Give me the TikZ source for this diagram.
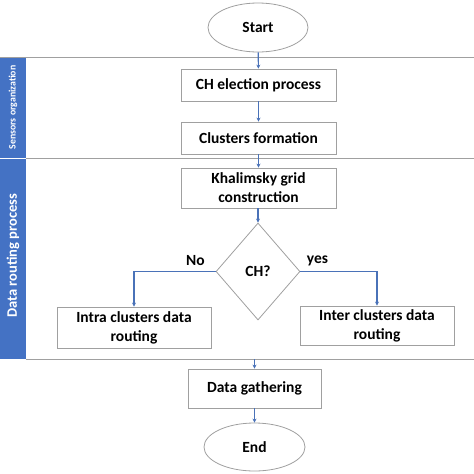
\documentclass[tikz,border=0pt]{standalone}
\usepackage{fontspec}
\setmainfont{Carlito}
\usetikzlibrary{shapes.geometric,arrows.meta}
\definecolor{laneblue}{HTML}{4472C4}
\definecolor{arrblue}{HTML}{4A72B8}
\definecolor{boxgray}{HTML}{A0A0A0}
\begin{document}
\begin{tikzpicture}[x=1pt,y=-1pt,
  txt/.style={font=\fontsize{15.5}{19}\selectfont\bfseries, text=black},
  procbox/.style={txt, draw=boxgray, line width=0.8pt, fill=white, inner sep=0pt, align=center},
  term/.style={txt, ellipse, draw=boxgray, line width=0.8pt, fill=white, inner sep=0pt},
  decide/.style={txt, diamond, draw=boxgray, line width=0.8pt, fill=white, inner sep=0pt, minimum width=84pt, minimum height=97pt},
  flow/.style={draw=arrblue, line width=1.1pt, -{Stealth[length=4pt,width=4pt]}},
  lane/.style={draw=boxgray, line width=0.8pt},
  lbl/.style={font=\fontsize{15.5}{19}\selectfont\bfseries, text=black}
]
\useasboundingbox (0,0) rectangle (474,474);
% lanes
\fill[laneblue] (0,57) rectangle (26,158);
\fill[laneblue] (0,158) rectangle (26,359);
\draw[white, line width=0.6pt] (0,158) -- (26,158);
\draw[lane] (0,57) -- (474,57);
\draw[lane] (26,158) -- (474,158);
\draw[lane] (26,359) -- (474,359);
\node[rotate=90, text=white, font=\fontsize{9.8}{11}\selectfont\bfseries] (lane1) at (13,107.5) {Sensors organization};
\node[rotate=90, text=white, font=\fontsize{14.5}{17}\selectfont\bfseries] (lane2) at (13,256) {Data routing process};
% nodes
\node[term, minimum width=100pt, minimum height=49pt] (start) at (258,27.5) {Start};
\node[procbox, minimum width=155pt, minimum height=32pt] (elect) at (258.5,85) {CH election process};
\node[procbox, minimum width=155pt, minimum height=32pt] (form) at (258.5,138) {Clusters formation};
\node[procbox, minimum width=155pt, minimum height=40pt] (grid) at (258.5,188) {Khalimsky grid\\construction};
\node[decide] (ch) at (258,271.5) {CH?};
\node[procbox, minimum width=154pt, minimum height=41pt] (intra) at (134,327.5) {Intra clusters data\\routing};
\node[procbox, minimum width=154pt, minimum height=39pt] (inter) at (377,325.5) {Inter clusters data\\routing};
\node[procbox, minimum width=133pt, minimum height=39pt] (gather) at (254.5,388.5) {Data gathering};
\node[term, minimum width=101pt, minimum height=48pt] (end) at (254.5,447) {End};
\node[lbl] (no) at (195.5,261) {No};
\node[lbl] (yes) at (317.5,261) {yes};
\coordinate (lanebot) at (254.5,359);
% connectors
\draw[flow] (start) -- (elect);
\draw[flow] (elect) -- (form);
\draw[flow] (form) -- (grid);
\draw[flow] (grid.south -| ch.north) -- (ch.north);
\draw[flow] (ch.west) -| (intra.north);
\draw[flow] (ch.east) -| (inter.north);
\draw[flow] (lanebot) -- (gather.north);
\draw[flow] (gather) -- (end);
\end{tikzpicture}
\end{document}
